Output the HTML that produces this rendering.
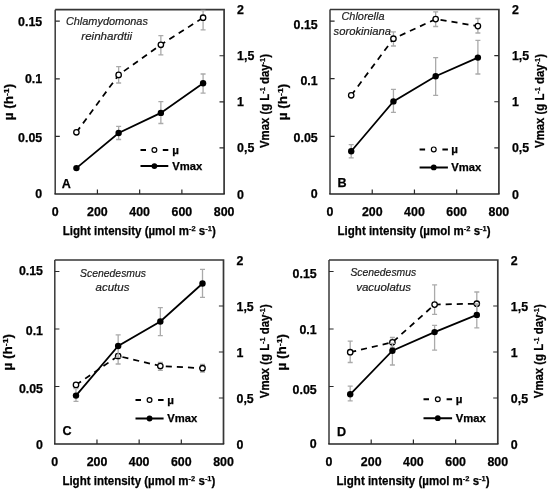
<!DOCTYPE html>
<html><head><meta charset="utf-8"><title>Light intensity figure</title>
<style>
html,body{margin:0;padding:0;background:#fff;}
svg{display:block;}
text{font-family:'Liberation Sans', sans-serif;fill:#000;}
.tk text,.ti,.lt,.lg{stroke:#000;stroke-width:0.25px;}
.tk text{font-size:12.4px;font-weight:bold;}
.ti{font-size:12.3px;font-weight:bold;}
.sup{font-size:8px;}
.nm{font-size:11.8px;font-style:italic;fill:#1a1a1a;stroke:#1a1a1a;stroke-width:0.2px;}
.lt{font-size:12.6px;font-weight:bold;}
.lg{font-size:11.3px;font-weight:bold;}
</style></head>
<body>
<svg width="550" height="492" viewBox="0 0 550 492">
<rect width="550" height="492" fill="#fff"/>
<g id="pA"><path d="M55.2 9.7H224.1V194" fill="none" stroke="#363636" stroke-width="1.7"/>
<path d="M55.2 9.7V194" fill="none" stroke="#383838" stroke-width="1.5"/>
<path d="M54.45 194H224.8" fill="none" stroke="#262626" stroke-width="1.4"/>
<path d="M55.2 136.41h4.6 M55.2 78.81h4.6 M55.2 21.22h4.6 M224.1 147.93h-4.6 M224.1 101.85h-4.6 M224.1 55.77h-4.6 M97.42 194v-4.4 M139.65 194v-4.4 M181.88 194v-4.4" stroke="#2a2a2a" stroke-width="1.2"/>
<g class="tk"><text x="42.2" y="198.2" text-anchor="end">0</text><text x="42.2" y="142.4" text-anchor="end">0.05</text><text x="42.2" y="82.5" text-anchor="end">0.1</text><text x="42.2" y="25.6" text-anchor="end">0.15</text><text x="237.1" y="198.5">0</text><text x="237.1" y="152.43">0,5</text><text x="237.1" y="106.35">1</text><text x="237.1" y="60.27">1,5</text><text x="237.1" y="14.2">2</text><text x="55.2" y="215.8" text-anchor="middle">0</text><text x="97.42" y="215.8" text-anchor="middle">200</text><text x="139.65" y="215.8" text-anchor="middle">400</text><text x="181.88" y="215.8" text-anchor="middle">600</text><text x="224.1" y="215.8" text-anchor="middle">800</text></g>
<text class="ti" x="62.8" y="234.7" textLength="153" lengthAdjust="spacingAndGlyphs">Light intensity (µmol m<tspan class="sup" dy="-4">-2</tspan><tspan dy="4"> s</tspan><tspan class="sup" dy="-4">-1</tspan><tspan dy="4">)</tspan></text>
<text class="ti" transform="translate(12.6 102.05) rotate(-90)" text-anchor="middle" textLength="36.5" lengthAdjust="spacingAndGlyphs">µ (h<tspan class="sup" dy="-4">-1</tspan><tspan dy="4">)</tspan></text>
<text class="ti" transform="translate(269.3 101.05) rotate(-90)" text-anchor="middle" textLength="94" lengthAdjust="spacingAndGlyphs">Vmax (g L<tspan class="sup" dy="-4">-1</tspan><tspan dy="4"> day</tspan><tspan class="sup" dy="-4">-1</tspan><tspan dy="4">)</tspan></text>
<text class="nm" x="65.9" y="25.4" textLength="82" lengthAdjust="spacingAndGlyphs">Chlamydomonas</text>
<text class="nm" x="81.3" y="39.5" textLength="50.8" lengthAdjust="spacingAndGlyphs">reinhardtii</text>
<text class="lt" x="61.7" y="187.6">A</text>
<path d="M76.41 132.3 L118.64 74.9 L160.86 44.8 L203.09 17.7" fill="none" stroke="#000" stroke-width="1.75" stroke-dasharray="6.1 5"/>
<path d="M118.64 66.7V83M116.14 66.7h5M116.14 83h5 M160.86 35.6V54.8M158.36 35.6h5M158.36 54.8h5 M203.09 10.5V29.8M200.59 10.5h5M200.59 29.8h5" stroke="#aaaaaa" stroke-width="1.3" fill="none"/>
<circle cx="76.41" cy="132.3" r="2.7" fill="#fff" stroke="#000" stroke-width="1.3"/>
<circle cx="118.64" cy="74.9" r="2.7" fill="#fff" stroke="#000" stroke-width="1.3"/>
<circle cx="160.86" cy="44.8" r="2.7" fill="#fff" stroke="#000" stroke-width="1.3"/>
<circle cx="203.09" cy="17.7" r="2.7" fill="#fff" stroke="#000" stroke-width="1.3"/>
<path d="M76.41 168.1 L118.64 133 L160.86 112.9 L203.09 83.2" fill="none" stroke="#000" stroke-width="1.75"/>
<path d="M118.64 126.4V139.5M116.14 126.4h5M116.14 139.5h5 M160.86 101.6V123.5M158.36 101.6h5M158.36 123.5h5 M203.09 74V93.2M200.59 74h5M200.59 93.2h5" stroke="#aaaaaa" stroke-width="1.3" fill="none"/>
<circle cx="76.41" cy="168.1" r="3.2" fill="#000"/>
<circle cx="118.64" cy="133" r="3.2" fill="#000"/>
<circle cx="160.86" cy="112.9" r="3.2" fill="#000"/>
<circle cx="203.09" cy="83.2" r="3.2" fill="#000"/>
<path d="M140.5 150h5.5M162.8 150h5.5M140.5 166.1H168.3" stroke="#000" stroke-width="2"/>
<circle cx="154.4" cy="150" r="2.4" fill="#fff" stroke="#000" stroke-width="1.2"/>
<circle cx="154.4" cy="166.1" r="2.9" fill="#000"/>
<text class="lg" x="172.2" y="153.7" style="font-size:11.6px">µ</text>
<text class="lg" x="172.2" y="170" textLength="30" lengthAdjust="spacingAndGlyphs">Vmax</text></g>
<g id="pB"><path d="M330 9.5H498.9V194" fill="none" stroke="#363636" stroke-width="1.7"/>
<path d="M330 9.5V194" fill="none" stroke="#383838" stroke-width="1.5"/>
<path d="M329.25 194H499.6" fill="none" stroke="#262626" stroke-width="1.4"/>
<path d="M330 136.34h4.6 M330 78.69h4.6 M330 21.03h4.6 M498.9 147.88h-4.6 M498.9 101.75h-4.6 M498.9 55.62h-4.6 M372.23 194v-4.4 M414.45 194v-4.4 M456.67 194v-4.4" stroke="#2a2a2a" stroke-width="1.2"/>
<g class="tk"><text x="317.7" y="198" text-anchor="end">0</text><text x="317.7" y="141.7" text-anchor="end">0.05</text><text x="317.7" y="85.4" text-anchor="end">0.1</text><text x="317.7" y="28.75" text-anchor="end">0.15</text><text x="511.9" y="198.5">0</text><text x="511.9" y="152.38">0,5</text><text x="511.9" y="106.25">1</text><text x="511.9" y="60.12">1,5</text><text x="511.9" y="14">2</text><text x="330" y="215.8" text-anchor="middle">0</text><text x="372.23" y="215.8" text-anchor="middle">200</text><text x="414.45" y="215.8" text-anchor="middle">400</text><text x="456.67" y="215.8" text-anchor="middle">600</text><text x="498.9" y="215.8" text-anchor="middle">800</text></g>
<text class="ti" x="337.6" y="234.7" textLength="153" lengthAdjust="spacingAndGlyphs">Light intensity (µmol m<tspan class="sup" dy="-4">-2</tspan><tspan dy="4"> s</tspan><tspan class="sup" dy="-4">-1</tspan><tspan dy="4">)</tspan></text>
<text class="ti" transform="translate(287.4 101.95) rotate(-90)" text-anchor="middle" textLength="36.5" lengthAdjust="spacingAndGlyphs">µ (h<tspan class="sup" dy="-4">-1</tspan><tspan dy="4">)</tspan></text>
<text class="ti" transform="translate(544.1 100.95) rotate(-90)" text-anchor="middle" textLength="94" lengthAdjust="spacingAndGlyphs">Vmax (g L<tspan class="sup" dy="-4">-1</tspan><tspan dy="4"> day</tspan><tspan class="sup" dy="-4">-1</tspan><tspan dy="4">)</tspan></text>
<text class="nm" x="341.5" y="19.7" textLength="43" lengthAdjust="spacingAndGlyphs">Chlorella</text>
<text class="nm" x="333.6" y="34.5" textLength="57.4" lengthAdjust="spacingAndGlyphs">sorokiniana</text>
<text class="lt" x="337.6" y="187.3">B</text>
<path d="M351.21 95.3 L393.44 38.7 L435.66 19.1 L477.89 26.1" fill="none" stroke="#000" stroke-width="1.75" stroke-dasharray="6.1 5"/>
<path d="M393.44 31.9V46M390.94 31.9h5M390.94 46h5 M435.66 11.8V26.5M433.16 11.8h5M433.16 26.5h5 M477.89 18.5V33M475.39 18.5h5M475.39 33h5" stroke="#aaaaaa" stroke-width="1.3" fill="none"/>
<circle cx="351.21" cy="95.3" r="2.7" fill="#fff" stroke="#000" stroke-width="1.3"/>
<circle cx="393.44" cy="38.7" r="2.7" fill="#fff" stroke="#000" stroke-width="1.3"/>
<circle cx="435.66" cy="19.1" r="2.7" fill="#fff" stroke="#000" stroke-width="1.3"/>
<circle cx="477.89" cy="26.1" r="2.7" fill="#fff" stroke="#000" stroke-width="1.3"/>
<path d="M351.21 151.2 L393.44 101.4 L435.66 76.2 L477.89 57.6" fill="none" stroke="#000" stroke-width="1.75"/>
<path d="M351.21 144.6V157.8M348.71 144.6h5M348.71 157.8h5 M393.44 89.4V112.4M390.94 89.4h5M390.94 112.4h5 M435.66 57.6V95.3M433.16 57.6h5M433.16 95.3h5 M477.89 40.4V74M475.39 40.4h5M475.39 74h5" stroke="#aaaaaa" stroke-width="1.3" fill="none"/>
<circle cx="351.21" cy="151.2" r="3.2" fill="#000"/>
<circle cx="393.44" cy="101.4" r="3.2" fill="#000"/>
<circle cx="435.66" cy="76.2" r="3.2" fill="#000"/>
<circle cx="477.89" cy="57.6" r="3.2" fill="#000"/>
<path d="M419.6 149.4h5.5M442.4 149.4h5.5M419.6 167.4H447.9" stroke="#000" stroke-width="2"/>
<circle cx="433.75" cy="149.4" r="2.4" fill="#fff" stroke="#000" stroke-width="1.2"/>
<circle cx="433.75" cy="167.4" r="2.9" fill="#000"/>
<text class="lg" x="451.2" y="153.1" style="font-size:11.6px">µ</text>
<text class="lg" x="451.2" y="171.3" textLength="30" lengthAdjust="spacingAndGlyphs">Vmax</text></g>
<g id="pC"><path d="M54.8 260H223.5V444" fill="none" stroke="#363636" stroke-width="1.7"/>
<path d="M54.8 260V444" fill="none" stroke="#383838" stroke-width="1.5"/>
<path d="M54.05 444H224.2" fill="none" stroke="#262626" stroke-width="1.4"/>
<path d="M54.8 386.5h4.6 M54.8 329h4.6 M54.8 271.5h4.6 M223.5 398h-4.6 M223.5 352h-4.6 M223.5 306h-4.6 M96.97 444v-4.4 M139.15 444v-4.4 M181.32 444v-4.4" stroke="#2a2a2a" stroke-width="1.2"/>
<g class="tk"><text x="43" y="448.6" text-anchor="end">0</text><text x="43" y="393.1" text-anchor="end">0.05</text><text x="43" y="334.7" text-anchor="end">0.1</text><text x="43" y="275.45" text-anchor="end">0.15</text><text x="236.5" y="448.5">0</text><text x="236.5" y="402.5">0,5</text><text x="236.5" y="356.5">1</text><text x="236.5" y="310.5">1,5</text><text x="236.5" y="264.5">2</text><text x="54.8" y="465.8" text-anchor="middle">0</text><text x="96.97" y="465.8" text-anchor="middle">200</text><text x="139.15" y="465.8" text-anchor="middle">400</text><text x="181.32" y="465.8" text-anchor="middle">600</text><text x="223.5" y="465.8" text-anchor="middle">800</text></g>
<text class="ti" x="62.4" y="484.7" textLength="153" lengthAdjust="spacingAndGlyphs">Light intensity (µmol m<tspan class="sup" dy="-4">-2</tspan><tspan dy="4"> s</tspan><tspan class="sup" dy="-4">-1</tspan><tspan dy="4">)</tspan></text>
<text class="ti" transform="translate(12.2 352.2) rotate(-90)" text-anchor="middle" textLength="36.5" lengthAdjust="spacingAndGlyphs">µ (h<tspan class="sup" dy="-4">-1</tspan><tspan dy="4">)</tspan></text>
<text class="ti" transform="translate(268.7 351.2) rotate(-90)" text-anchor="middle" textLength="94" lengthAdjust="spacingAndGlyphs">Vmax (g L<tspan class="sup" dy="-4">-1</tspan><tspan dy="4"> day</tspan><tspan class="sup" dy="-4">-1</tspan><tspan dy="4">)</tspan></text>
<text class="nm" x="80.1" y="276.5" textLength="65.9" lengthAdjust="spacingAndGlyphs">Scenedesmus</text>
<text class="nm" x="95.5" y="291" textLength="34" lengthAdjust="spacingAndGlyphs">acutus</text>
<text class="lt" x="62.5" y="435.4">C</text>
<path d="M75.99 384.9 L118.16 356 L160.34 366 L202.51 368.2" fill="none" stroke="#000" stroke-width="1.75" stroke-dasharray="6.1 5"/>
<path d="M118.16 354V364M115.66 354h5M115.66 364h5 M160.34 362.4V370.4M157.84 362.4h5M157.84 370.4h5 M202.51 364.5V372M200.01 364.5h5M200.01 372h5" stroke="#aaaaaa" stroke-width="1.3" fill="none"/>
<circle cx="75.99" cy="384.9" r="2.7" fill="#fff" stroke="#000" stroke-width="1.3"/>
<circle cx="118.16" cy="356" r="2.7" fill="#fff" stroke="#000" stroke-width="1.3"/>
<circle cx="160.34" cy="366" r="2.7" fill="#fff" stroke="#000" stroke-width="1.3"/>
<circle cx="202.51" cy="368.2" r="2.7" fill="#fff" stroke="#000" stroke-width="1.3"/>
<path d="M75.99 395.6 L118.16 346 L160.34 321.5 L202.51 283.5" fill="none" stroke="#000" stroke-width="1.75"/>
<path d="M75.99 388.6V401.3M73.49 388.6h5M73.49 401.3h5 M118.16 334.9V357.3M115.66 334.9h5M115.66 357.3h5 M160.34 307.6V335.7M157.84 307.6h5M157.84 335.7h5 M202.51 269.3V297.3M200.01 269.3h5M200.01 297.3h5" stroke="#aaaaaa" stroke-width="1.3" fill="none"/>
<circle cx="75.99" cy="395.6" r="3.2" fill="#000"/>
<circle cx="118.16" cy="346" r="3.2" fill="#000"/>
<circle cx="160.34" cy="321.5" r="3.2" fill="#000"/>
<circle cx="202.51" cy="283.5" r="3.2" fill="#000"/>
<path d="M135.5 400h5.5M158.1 400h5.5M135.5 418.5H163.6" stroke="#000" stroke-width="2"/>
<circle cx="149.55" cy="400" r="2.4" fill="#fff" stroke="#000" stroke-width="1.2"/>
<circle cx="149.55" cy="418.5" r="2.9" fill="#000"/>
<text class="lg" x="167.3" y="403.7" style="font-size:11.6px">µ</text>
<text class="lg" x="167.3" y="422.4" textLength="30" lengthAdjust="spacingAndGlyphs">Vmax</text></g>
<g id="pD"><path d="M329 260H497.8V444" fill="none" stroke="#363636" stroke-width="1.7"/>
<path d="M329 260V444" fill="none" stroke="#383838" stroke-width="1.5"/>
<path d="M328.25 444H498.5" fill="none" stroke="#262626" stroke-width="1.4"/>
<path d="M329 386.5h4.6 M329 329h4.6 M329 271.5h4.6 M497.8 398h-4.6 M497.8 352h-4.6 M497.8 306h-4.6 M371.2 444v-4.4 M413.4 444v-4.4 M455.6 444v-4.4" stroke="#2a2a2a" stroke-width="1.2"/>
<g class="tk"><text x="316.7" y="448.1" text-anchor="end">0</text><text x="316.7" y="394" text-anchor="end">0.05</text><text x="316.7" y="333.6" text-anchor="end">0.1</text><text x="316.7" y="278.1" text-anchor="end">0.15</text><text x="510.8" y="448.5">0</text><text x="510.8" y="402.5">0,5</text><text x="510.8" y="356.5">1</text><text x="510.8" y="310.5">1,5</text><text x="510.8" y="264.5">2</text><text x="329" y="465.8" text-anchor="middle">0</text><text x="371.2" y="465.8" text-anchor="middle">200</text><text x="413.4" y="465.8" text-anchor="middle">400</text><text x="455.6" y="465.8" text-anchor="middle">600</text><text x="497.8" y="465.8" text-anchor="middle">800</text></g>
<text class="ti" x="336.6" y="484.7" textLength="153" lengthAdjust="spacingAndGlyphs">Light intensity (µmol m<tspan class="sup" dy="-4">-2</tspan><tspan dy="4"> s</tspan><tspan class="sup" dy="-4">-1</tspan><tspan dy="4">)</tspan></text>
<text class="ti" transform="translate(286.4 352.2) rotate(-90)" text-anchor="middle" textLength="36.5" lengthAdjust="spacingAndGlyphs">µ (h<tspan class="sup" dy="-4">-1</tspan><tspan dy="4">)</tspan></text>
<text class="ti" transform="translate(543 351.2) rotate(-90)" text-anchor="middle" textLength="94" lengthAdjust="spacingAndGlyphs">Vmax (g L<tspan class="sup" dy="-4">-1</tspan><tspan dy="4"> day</tspan><tspan class="sup" dy="-4">-1</tspan><tspan dy="4">)</tspan></text>
<text class="nm" x="350.4" y="276" textLength="65.8" lengthAdjust="spacingAndGlyphs">Scenedesmus</text>
<text class="nm" x="356.2" y="291" textLength="54.9" lengthAdjust="spacingAndGlyphs">vacuolatus</text>
<text class="lt" x="337.1" y="435.8">D</text>
<path d="M350.2 352.2 L392.4 342.3 L434.6 304.6 L476.8 303.7" fill="none" stroke="#000" stroke-width="1.75" stroke-dasharray="6.1 5"/>
<path d="M350.2 341.2V362.5M347.7 341.2h5M347.7 362.5h5 M392.4 337.5V347.5M389.9 337.5h5M389.9 347.5h5 M434.6 284.9V314.3M432.1 284.9h5M432.1 314.3h5 M476.8 292V315M474.3 292h5M474.3 315h5" stroke="#aaaaaa" stroke-width="1.3" fill="none"/>
<circle cx="350.2" cy="352.2" r="2.7" fill="#fff" stroke="#000" stroke-width="1.3"/>
<circle cx="392.4" cy="342.3" r="2.7" fill="#fff" stroke="#000" stroke-width="1.3"/>
<circle cx="434.6" cy="304.6" r="2.7" fill="#fff" stroke="#000" stroke-width="1.3"/>
<circle cx="476.8" cy="303.7" r="2.7" fill="#fff" stroke="#000" stroke-width="1.3"/>
<path d="M350.2 394.3 L392.4 350.7 L434.6 332.1 L476.8 314.9" fill="none" stroke="#000" stroke-width="1.75"/>
<path d="M350.2 386.2V400.9M347.7 386.2h5M347.7 400.9h5 M392.4 343.4V365M389.9 343.4h5M389.9 365h5 M434.6 325.3V350.2M432.1 325.3h5M432.1 350.2h5 M476.8 304V327.9M474.3 304h5M474.3 327.9h5" stroke="#aaaaaa" stroke-width="1.3" fill="none"/>
<circle cx="350.2" cy="394.3" r="3.2" fill="#000"/>
<circle cx="392.4" cy="350.7" r="3.2" fill="#000"/>
<circle cx="434.6" cy="332.1" r="3.2" fill="#000"/>
<circle cx="476.8" cy="314.9" r="3.2" fill="#000"/>
<path d="M423.5 399.2h5.5M446.6 399.2h5.5M423.5 418.2H452.1" stroke="#000" stroke-width="2"/>
<circle cx="437.8" cy="399.2" r="2.4" fill="#fff" stroke="#000" stroke-width="1.2"/>
<circle cx="437.8" cy="418.2" r="2.9" fill="#000"/>
<text class="lg" x="455.7" y="402.9" style="font-size:11.6px">µ</text>
<text class="lg" x="455.7" y="422.1" textLength="30" lengthAdjust="spacingAndGlyphs">Vmax</text></g>
</svg>
</body></html>
